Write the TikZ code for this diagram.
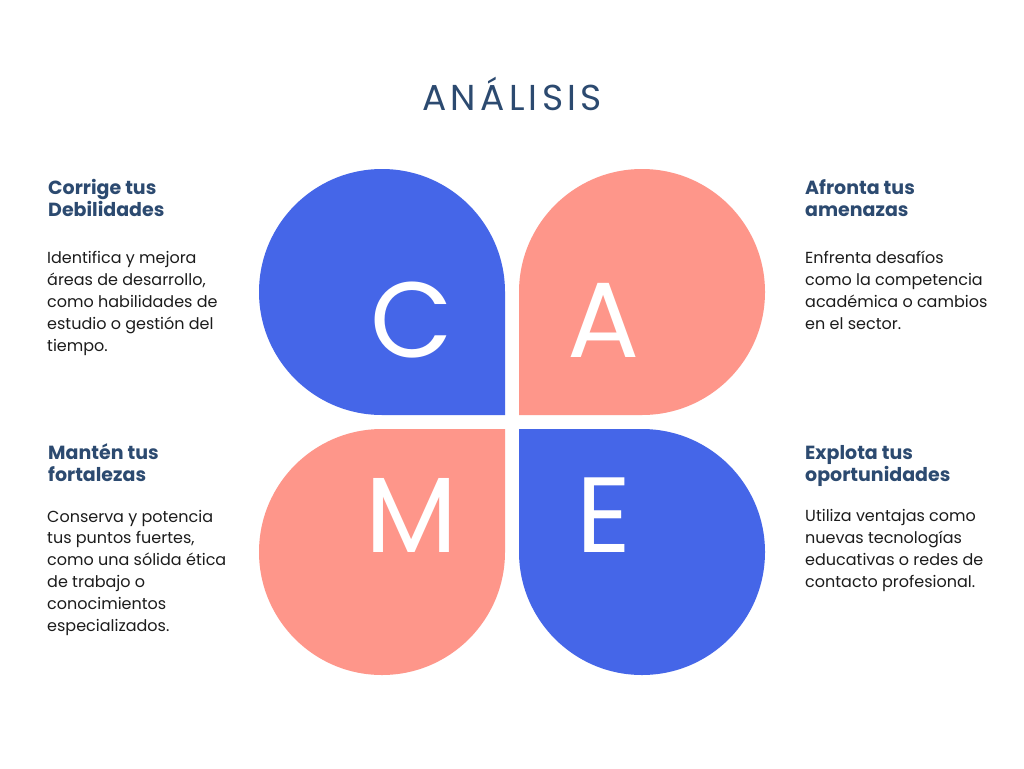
\documentclass[tikz,border=0pt]{standalone}
\usepackage{fontspec}
\setmainfont{Poppins}
\newfontfamily\titlefont[LetterSpace=12]{Poppins}
\usetikzlibrary{positioning}
\definecolor{petalblue}{HTML}{4566E8}
\definecolor{petalsalmon}{HTML}{FE968A}
\definecolor{headblue}{HTML}{2C4A70}
\definecolor{bodyink}{HTML}{1C1C1C}
\tikzset{
  bluepetal/.style={fill=petalblue},
  salmonpetal/.style={fill=petalsalmon},
  letter/.style={text=white, font=\fontsize{107}{107}\selectfont, anchor=base, inner sep=0pt},
  heading/.style={text=headblue, font=\fontsize{19}{22}\selectfont\bfseries, align=left, anchor=base west, inner sep=0pt},
  bodytext/.style={text=bodyink, font=\fontsize{16}{21.8}\selectfont, align=left, anchor=base west, inner sep=0pt},
  maintitle/.style={text=headblue, font=\titlefont\fontsize{36}{40}\selectfont, anchor=base, inner sep=0pt},
}

\begin{document}
\begin{tikzpicture}[x=1pt, y=-1pt]

  % ---- Canvas ----
  \fill[white] (0,0) rectangle (1024,768);
  \useasboundingbox (0,0) rectangle (1024,768);

  % ---- Title ----
  \node (title) [maintitle] at (512,110) {ANÁLISIS};

  % ---- Petals ----
  \fill[bluepetal] (505,415) -- (505,292) arc[start angle=0, end angle=-270, radius=123] -- cycle;
  \fill[salmonpetal] (519,415) -- (642,415) arc[start angle=90, end angle=-180, radius=123] -- cycle;
  \fill[salmonpetal] (505,429) -- (382,429) arc[start angle=-90, end angle=-360, radius=123] -- cycle;
  \fill[bluepetal] (519,429) -- (519,552) arc[start angle=180, end angle=-90, radius=123] -- cycle;

  % ---- Letters ----
  \node (c) [letter] at (412,357) {C};
  \node (a) [letter] at (604,357) {A};
  \node (m) [letter] at (412,552) {M};
  \node (e) [letter] at (604,552) {E};

  % ---- Left column (anchored on last baseline) ----
  \node (corrige) [heading] at (48,216) {Corrige tus\\Debilidades};
  \node (corrigetxt) [bodytext] at (47,351) {Identifica y mejora\\áreas de desarrollo,\\como habilidades de\\estudio o gestión del\\tiempo.};
  \node (manten) [heading] at (48,481) {Mantén tus\\fortalezas};
  \node (mantentxt) [bodytext] at (47,631) {Conserva y potencia\\tus puntos fuertes,\\como una sólida ética\\de trabajo o\\conocimientos\\especializados.};

  % ---- Right column ----
  \node (afronta) [heading] at (805,216) {Afronta tus\\amenazas};
  \node (afrontatxt) [bodytext] at (805,329) {Enfrenta desafíos\\como la competencia\\académica o cambios\\en el sector.};
  \node (explota) [heading] at (805,481) {Explota tus\\oportunidades};
  \node (explotatxt) [bodytext] at (805,587) {Utiliza ventajas como\\nuevas tecnologías\\educativas o redes de\\contacto profesional.};

\end{tikzpicture}
\end{document}
